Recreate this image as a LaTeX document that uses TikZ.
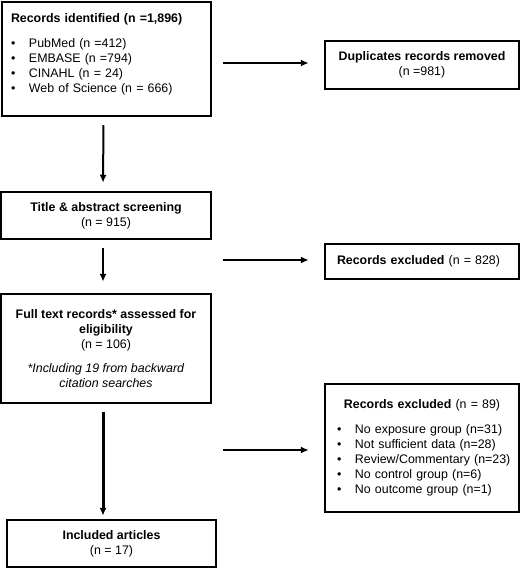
\documentclass[tikz,border=0pt]{standalone}
\usepackage{fontspec}
\setmainfont{Liberation Sans}
\usepackage{tikz}
\usetikzlibrary{arrows.meta}

\newcommand{\bitem}[1]{\makebox[18pt][l]{\textbullet}\mbox{#1}}

\tikzset{
	flowbox/.style = {draw, rectangle, line width = 2.5pt, inner sep = 0pt, font = \fontsize{12.4}{15}\selectfont},
	flowarrow/.style = {-{Latex[length=8pt, width=7pt]}, line width = 2pt}
}

\begin{document}
\begin{tikzpicture}[x=1pt, y=-1pt]
	\useasboundingbox (0,0) rectangle (520,569);

	\node [flowbox, minimum width = 209pt, minimum height = 114pt, text width = 191pt, align = left] (ident) at (106.5,59)
		{\textbf{Records identified (n =1,896)}\\[10pt]
		\bitem{PubMed (n =412)}\\
		\bitem{EMBASE (n =794)}\\
		\bitem{CINAHL (n = 24)}\\
		\bitem{Web of Science (n = 666)}\\[-4pt]\mbox{}};
	\node [flowbox, minimum width = 210pt, minimum height = 47pt, align = center] (screen) at (106,215.5)
		{\textbf{Title \& abstract screening}\\(n = 915)};
	\node [flowbox, minimum width = 210pt, minimum height = 109pt, align = center] (full) at (106,348.5)
		{\textbf{Full text records* assessed for}\\\textbf{eligibility}\\(n = 106)\\[9pt]
		\textit{*Including 19 from backward}\\\textit{citation searches}};
	\node [flowbox, minimum width = 209pt, minimum height = 47pt, align = center] (incl) at (111.5,543.5)
		{\textbf{Included articles}\\(n = 17)};

	\node [flowbox, minimum width = 194pt, minimum height = 48pt, align = center] (dup) at (422,65)
		{\textbf{Duplicates records removed}\\(n =981)};
	\node [flowbox, minimum width = 194pt, minimum height = 35pt, text width = 170pt, align = left] (excl) at (422,261.5)
		{\textbf{Records excluded} (n = 828)};
	\node [flowbox, minimum width = 194pt, minimum height = 128pt, text width = 170pt, align = left] (exclb) at (422,448)
		{\makebox[\linewidth][c]{\textbf{Records excluded} (n = 89)}\\[10pt]
		\bitem{No exposure group (n=31)}\\
		\bitem{Not sufficient data (n=28)}\\
		\bitem{Review/Commentary (n=23)}\\
		\bitem{No control group (n=6)}\\
		\bitem{No outcome group (n=1)}};

	\draw [flowarrow, shorten <= 8pt, shorten >= 8pt] ([xshift=-3pt]ident.south) -- ([xshift=-3pt]screen.north);
	\draw [flowarrow, shorten <= 8pt, shorten >= 11pt] ([xshift=-3pt]screen.south) -- ([xshift=-3pt]full.north);
	\draw [flowarrow, line width = 3pt, shorten <= 8pt, shorten >= 3pt] ([xshift=-3pt]full.south) -- ([xshift=-3pt]full.south |- incl.north);

	\coordinate (dupstart) at (223,63);
	\coordinate (exclstart) at (223,260);
	\coordinate (exclbstart) at (223,450);
	\draw [flowarrow, shorten >= 15pt] (dupstart) -- (dupstart -| dup.west);
	\draw [flowarrow, shorten >= 15pt] (exclstart) -- (exclstart -| excl.west);
	\draw [flowarrow, shorten >= 15pt] (exclbstart) -- (exclbstart -| exclb.west);
\end{tikzpicture}
\end{document}
